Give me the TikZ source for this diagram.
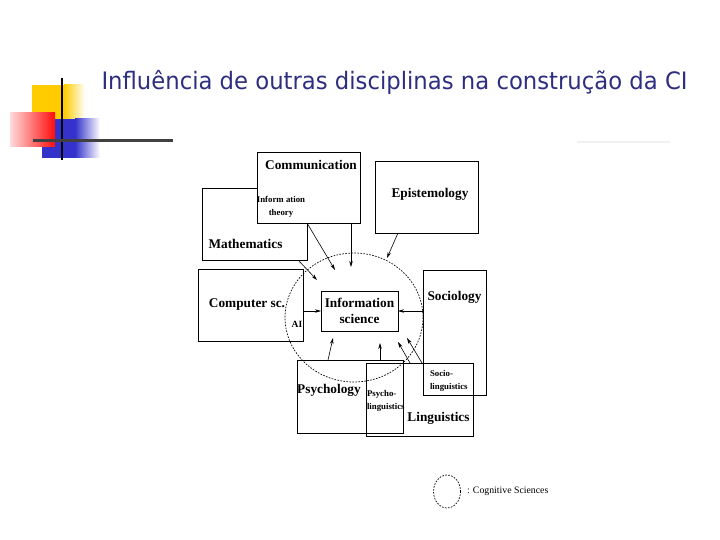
\documentclass[tikz,border=0pt]{standalone}
\usepackage{fontspec}
\usepackage{graphicx}
\usetikzlibrary{arrows.meta}
\setmainfont{Liberation Serif}
\newfontfamily\titlefont{DejaVu Sans}
\newlength{\du}
\setlength{\du}{1pt}
\definecolor{dialinecolor}{rgb}{0.000000, 0.000000, 0.000000}
\definecolor{diafillcolor}{rgb}{1.000000, 1.000000, 1.000000}
\definecolor{titlecolor}{rgb}{0.180000, 0.180000, 0.500000}
\definecolor{squareyellow}{rgb}{1.000000, 0.800000, 0.000000}
\definecolor{squarered}{rgb}{1.000000, 0.050000, 0.050000}
\definecolor{squareblue}{rgb}{0.200000, 0.200000, 0.800000}
\tikzset{
  discbox/.style={draw=dialinecolor, line width=0.9\du, rectangle, inner sep=0pt, outer sep=0pt},
  disclabel/.style={anchor=base, inner sep=0pt, outer sep=0pt, color=dialinecolor, font=\fontsize{13.3}{17}\selectfont\bfseries},
  smalllabel/.style={inner sep=0pt, outer sep=0pt, color=dialinecolor, font=\fontsize{8.8}{13}\selectfont\bfseries},
  influence/.style={draw=dialinecolor, line width=0.6\du, -{Stealth[length=6pt,width=3.5pt]}},
  cogline/.style={draw=dialinecolor, line width=0.7\du, dash pattern=on 1.6pt off 1.4pt}
}
\begin{document}
\begin{tikzpicture}[yscale=-1]
\useasboundingbox (0\du,0\du) rectangle (720\du,540\du);
\fill[diafillcolor] (0\du,0\du) rectangle (720\du,540\du);
% template squares
\fill[squareyellow] (32\du,85\du) rectangle (64\du,119\du);
\shade[left color=squareyellow, right color=white] (64\du,85\du) rectangle (85\du,119\du);
\fill[squareblue] (42\du,119\du) rectangle (75\du,158\du);
\shade[left color=squareblue, right color=white] (75\du,119\du) rectangle (100\du,158\du);
\shade[left color=squarered!15, right color=squarered] (10\du,113\du) rectangle (55\du,147\du);
\draw[line width=2.5\du, black] (62\du,78\du) -- (62\du,160\du);
\draw[line width=3\du, black!75] (33\du,141\du) -- (173\du,141\du);
\draw[line width=2\du, black!6] (577\du,142\du) -- (670\du,142\du);
% setfont left to latex
\node[anchor=base west, inner sep=0pt, outer sep=0pt, color=titlecolor] (title) at (101.5\du,90\du)
  {\resizebox{586\du}{\height}{\titlefont\fontsize{24}{28}\selectfont Influência de outras disciplinas na construção da CI}};
% disciplines
\node[discbox, minimum width=105\du, minimum height=72\du] (math) at (254.5\du,224\du) {};
\node[discbox, fill=diafillcolor, minimum width=103\du, minimum height=71\du] (comm) at (308.5\du,187.5\du) {};
\node[discbox, minimum width=103\du, minimum height=72\du] (epis) at (426.5\du,197\du) {};
\node[discbox, minimum width=105\du, minimum height=72\du] (comp) at (250.5\du,305\du) {};
\node[discbox, minimum width=77\du, minimum height=40\du, align=center, font=\fontsize{13.3}{16.5}\selectfont\bfseries] (info) at (359.5\du,311\du) {Information\\science};
\node[discbox, minimum width=63\du, minimum height=125\du] (soc) at (454.5\du,332.5\du) {};
\node[discbox, minimum width=106\du, minimum height=73\du] (psy) at (350\du,396.5\du) {};
\node[discbox, minimum width=107\du, minimum height=73\du] (ling) at (419.5\du,399.5\du) {};
% setfont left to latex
\node[disclabel] (commlabel) at (311\du,170\du) {Communication};
\node[smalllabel, align=center] (theorylabel) at (281\du,206.5\du) {Inform ation\\theory};
\node[disclabel] (mathlabel) at (245.5\du,248\du) {Mathematics};
\node[disclabel] (epislabel) at (430\du,198\du) {Epistemology};
\node[disclabel] (complabel) at (247\du,307\du) {Computer sc.};
\node[smalllabel, anchor=base, font=\fontsize{9.5}{11}\selectfont\bfseries] (ailabel) at (297\du,327\du) {AI};
\node[disclabel] (soclabel) at (454.5\du,300\du) {Sociology};
\node[smalllabel, anchor=west, align=left] (soclinglabel) at (430\du,380.5\du) {Socio-\\linguistics};
\node[disclabel] (psylabel) at (329\du,393\du) {Psychology};
\node[smalllabel, anchor=west, align=left] (psylinglabel) at (367\du,401\du) {Psycho-\\linguistics};
\node[disclabel] (linglabel) at (438.5\du,421\du) {Linguistics};
% cognitive sciences
\draw[cogline] (354\du,317.5\du) ellipse [x radius=69\du, y radius=64.5\du];
% arrows
\coordinate (theorytip) at (335\du,270\du);
\coordinate (commtip) at (351\du,267\du);
\coordinate (epistip) at (387\du,258\du);
\coordinate (mathtip) at (317\du,280\du);
\coordinate (psytip) at (333\du,338\du);
\coordinate (psylingtip) at (380\du,343\du);
\coordinate (soclingtipa) at (398\du,342\du);
\coordinate (soclingtipb) at (407\du,338\du);
\draw[influence] (math.east |- comm.south) -- (theorytip);
\draw[influence] (comm.south -| commtip) -- (commtip);
\draw[influence] ([xshift=-28.5\du]epis.south) -- (epistip);
\draw[influence] ([xshift=43.5\du]math.south) -- (mathtip);
\draw[influence] (comp.east |- info.west) -- (info.west);
\draw[influence] (soc.west |- info.east) -- (info.east);
\draw[influence] ([xshift=-22\du]psy.north) -- (psytip);
\draw[influence] (psy.north -| psylingtip) -- (psylingtip);
\draw[influence] ([xshift=-9.5\du]ling.north) -- (soclingtipa);
\draw[influence] ([xshift=2.5\du]ling.north) -- (soclingtipb);
% legend
\draw[cogline] (447\du,491.5\du) ellipse [x radius=13.5\du, y radius=16.5\du];
\node[anchor=west, inner sep=0pt, outer sep=0pt, color=dialinecolor, font=\fontsize{9.8}{11}\selectfont] (legend) at (467\du,491\du) {: Cognitive Sciences};
\end{tikzpicture}
\end{document}
